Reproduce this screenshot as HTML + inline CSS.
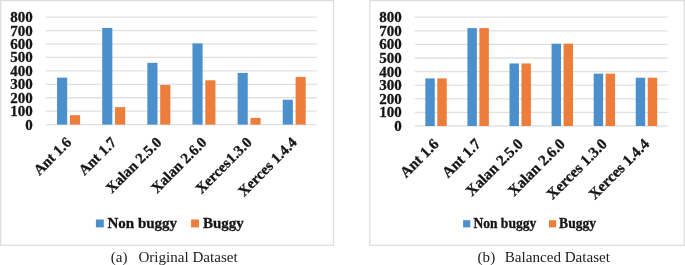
<!DOCTYPE html>
<html><head><meta charset="utf-8"><title>Dataset charts</title>
<style>
html,body{margin:0;padding:0;background:#fff;}
svg{display:block}
text{font-family:"Liberation Serif","Times New Roman",serif;fill:#1a1a1a}
.ax{font-size:15px;font-weight:bold}
.lb{font-weight:bold}
.ax,.lb,.lg{stroke:#151515;stroke-width:0.3px;fill:#151515}
.lg{font-weight:bold}
.cap{font-size:15.1px;fill:#222}
</style></head><body>
<svg width="685" height="265" viewBox="0 0 685 265">
<rect width="685" height="265" fill="#fff"/>
<rect x="0.6" y="0.6" width="332.9" height="244.6" fill="#fff" stroke="#DEDEDE" stroke-width="1.3"/>
<line x1="46.0" x2="316.8" y1="17.20" y2="17.20" stroke="#DFE0E2" stroke-width="1.3"/>
<text x="32.7" y="22.10" text-anchor="end" class="ax">800</text>
<line x1="46.0" x2="316.8" y1="30.62" y2="30.62" stroke="#DFE0E2" stroke-width="1.3"/>
<text x="32.7" y="35.52" text-anchor="end" class="ax">700</text>
<line x1="46.0" x2="316.8" y1="44.05" y2="44.05" stroke="#DFE0E2" stroke-width="1.3"/>
<text x="32.7" y="48.95" text-anchor="end" class="ax">600</text>
<line x1="46.0" x2="316.8" y1="57.47" y2="57.47" stroke="#DFE0E2" stroke-width="1.3"/>
<text x="32.7" y="62.37" text-anchor="end" class="ax">500</text>
<line x1="46.0" x2="316.8" y1="70.90" y2="70.90" stroke="#DFE0E2" stroke-width="1.3"/>
<text x="32.7" y="75.80" text-anchor="end" class="ax">400</text>
<line x1="46.0" x2="316.8" y1="84.33" y2="84.33" stroke="#DFE0E2" stroke-width="1.3"/>
<text x="32.7" y="89.23" text-anchor="end" class="ax">300</text>
<line x1="46.0" x2="316.8" y1="97.75" y2="97.75" stroke="#DFE0E2" stroke-width="1.3"/>
<text x="32.7" y="102.65" text-anchor="end" class="ax">200</text>
<line x1="46.0" x2="316.8" y1="111.17" y2="111.17" stroke="#DFE0E2" stroke-width="1.3"/>
<text x="32.7" y="116.08" text-anchor="end" class="ax">100</text>
<line x1="46.0" x2="316.8" y1="124.60" y2="124.60" stroke="#DFE0E2" stroke-width="1.3"/>
<text x="32.7" y="129.50" text-anchor="end" class="ax">0</text>
<rect x="57.08" y="77.61" width="10.12" height="46.99" fill="#4B90CC"/>
<rect x="69.93" y="115.20" width="10.12" height="9.40" fill="#EC7D3A"/>
<text transform="translate(72.17,143.30) rotate(-45)" text-anchor="end" class="lb" font-size="14.9">Ant 1.6</text>
<rect x="102.22" y="27.94" width="10.12" height="96.66" fill="#4B90CC"/>
<rect x="115.07" y="107.15" width="10.12" height="17.45" fill="#EC7D3A"/>
<text transform="translate(117.30,143.30) rotate(-45)" text-anchor="end" class="lb" font-size="14.9">Ant 1.7</text>
<rect x="147.35" y="62.85" width="10.12" height="61.75" fill="#4B90CC"/>
<rect x="160.20" y="85.00" width="10.12" height="39.60" fill="#EC7D3A"/>
<text transform="translate(162.43,143.30) rotate(-45)" text-anchor="end" class="lb" font-size="14.9">Xalan 2.5.0</text>
<rect x="192.48" y="43.38" width="10.12" height="81.22" fill="#4B90CC"/>
<rect x="205.33" y="80.30" width="10.12" height="44.30" fill="#EC7D3A"/>
<text transform="translate(207.57,143.30) rotate(-45)" text-anchor="end" class="lb" font-size="14.9">Xalan 2.6.0</text>
<rect x="237.62" y="72.91" width="10.12" height="51.69" fill="#4B90CC"/>
<rect x="250.47" y="117.89" width="10.12" height="6.71" fill="#EC7D3A"/>
<text transform="translate(252.70,143.30) rotate(-45)" text-anchor="end" class="lb" font-size="14.9">Xerces1.3.0</text>
<rect x="282.75" y="99.76" width="10.12" height="24.84" fill="#4B90CC"/>
<rect x="295.60" y="76.94" width="10.12" height="47.66" fill="#EC7D3A"/>
<text transform="translate(297.83,143.30) rotate(-45)" text-anchor="end" class="lb" font-size="14.9">Xerces 1.4.4</text>
<rect x="95.9" y="219.5" width="7.9" height="7.9" fill="#4B90CC"/>
<text x="107.5" y="228" class="lg" font-size="15">Non buggy</text>
<rect x="191.1" y="219.5" width="7.9" height="7.9" fill="#EC7D3A"/>
<text x="202.9" y="228" class="lg" font-size="15">Buggy</text>
<rect x="369.8" y="0.6" width="314.49999999999994" height="244.6" fill="#fff" stroke="#DEDEDE" stroke-width="1.3"/>
<line x1="415.0" x2="667.5" y1="17.20" y2="17.20" stroke="#DFE0E2" stroke-width="1.3"/>
<text x="401.7" y="22.10" text-anchor="end" class="ax">800</text>
<line x1="415.0" x2="667.5" y1="30.80" y2="30.80" stroke="#DFE0E2" stroke-width="1.3"/>
<text x="401.7" y="35.70" text-anchor="end" class="ax">700</text>
<line x1="415.0" x2="667.5" y1="44.40" y2="44.40" stroke="#DFE0E2" stroke-width="1.3"/>
<text x="401.7" y="49.30" text-anchor="end" class="ax">600</text>
<line x1="415.0" x2="667.5" y1="58.00" y2="58.00" stroke="#DFE0E2" stroke-width="1.3"/>
<text x="401.7" y="62.90" text-anchor="end" class="ax">500</text>
<line x1="415.0" x2="667.5" y1="71.60" y2="71.60" stroke="#DFE0E2" stroke-width="1.3"/>
<text x="401.7" y="76.50" text-anchor="end" class="ax">400</text>
<line x1="415.0" x2="667.5" y1="85.20" y2="85.20" stroke="#DFE0E2" stroke-width="1.3"/>
<text x="401.7" y="90.10" text-anchor="end" class="ax">300</text>
<line x1="415.0" x2="667.5" y1="98.80" y2="98.80" stroke="#DFE0E2" stroke-width="1.3"/>
<text x="401.7" y="103.70" text-anchor="end" class="ax">200</text>
<line x1="415.0" x2="667.5" y1="112.40" y2="112.40" stroke="#DFE0E2" stroke-width="1.3"/>
<text x="401.7" y="117.30" text-anchor="end" class="ax">100</text>
<line x1="415.0" x2="667.5" y1="126.00" y2="126.00" stroke="#DFE0E2" stroke-width="1.3"/>
<text x="401.7" y="130.90" text-anchor="end" class="ax">0</text>
<rect x="425.33" y="78.40" width="9.44" height="47.60" fill="#4B90CC"/>
<rect x="437.31" y="78.40" width="9.44" height="47.60" fill="#EC7D3A"/>
<text transform="translate(439.64,144.90) rotate(-45)" text-anchor="end" class="lb" font-size="15.3">Ant 1.6</text>
<rect x="467.42" y="28.08" width="9.44" height="97.92" fill="#4B90CC"/>
<rect x="479.40" y="28.08" width="9.44" height="97.92" fill="#EC7D3A"/>
<text transform="translate(481.73,144.90) rotate(-45)" text-anchor="end" class="lb" font-size="15.3">Ant 1.7</text>
<rect x="509.50" y="63.44" width="9.44" height="62.56" fill="#4B90CC"/>
<rect x="521.48" y="63.44" width="9.44" height="62.56" fill="#EC7D3A"/>
<text transform="translate(523.81,144.90) rotate(-45)" text-anchor="end" class="lb" font-size="15.3">Xalan 2.5.0</text>
<rect x="551.58" y="43.72" width="9.44" height="82.28" fill="#4B90CC"/>
<rect x="563.56" y="43.72" width="9.44" height="82.28" fill="#EC7D3A"/>
<text transform="translate(565.89,144.90) rotate(-45)" text-anchor="end" class="lb" font-size="15.3">Xalan 2.6.0</text>
<rect x="593.67" y="73.64" width="9.44" height="52.36" fill="#4B90CC"/>
<rect x="605.65" y="73.64" width="9.44" height="52.36" fill="#EC7D3A"/>
<text transform="translate(607.98,144.90) rotate(-45)" text-anchor="end" class="lb" font-size="15.3">Xerces 1.3.0</text>
<rect x="635.75" y="77.72" width="9.44" height="48.28" fill="#4B90CC"/>
<rect x="647.73" y="77.72" width="9.44" height="48.28" fill="#EC7D3A"/>
<text transform="translate(650.06,144.90) rotate(-45)" text-anchor="end" class="lb" font-size="15.3">Xerces 1.4.4</text>
<rect x="463.1" y="220.20000000000002" width="7.2" height="7.2" fill="#4B90CC"/>
<text x="473.4" y="228" class="lg" font-size="13.55">Non buggy</text>
<rect x="549.0" y="220.20000000000002" width="7.2" height="7.2" fill="#EC7D3A"/>
<text x="559.1" y="228" class="lg" font-size="13.55">Buggy</text>
<text x="110.8" y="261.9" class="cap">(a)</text><text x="138.4" y="261.9" class="cap">Original Dataset</text>
<text x="477.6" y="261.9" class="cap">(b)</text><text x="504.8" y="261.9" class="cap">Balanced Dataset</text>
</svg>
</body></html>
